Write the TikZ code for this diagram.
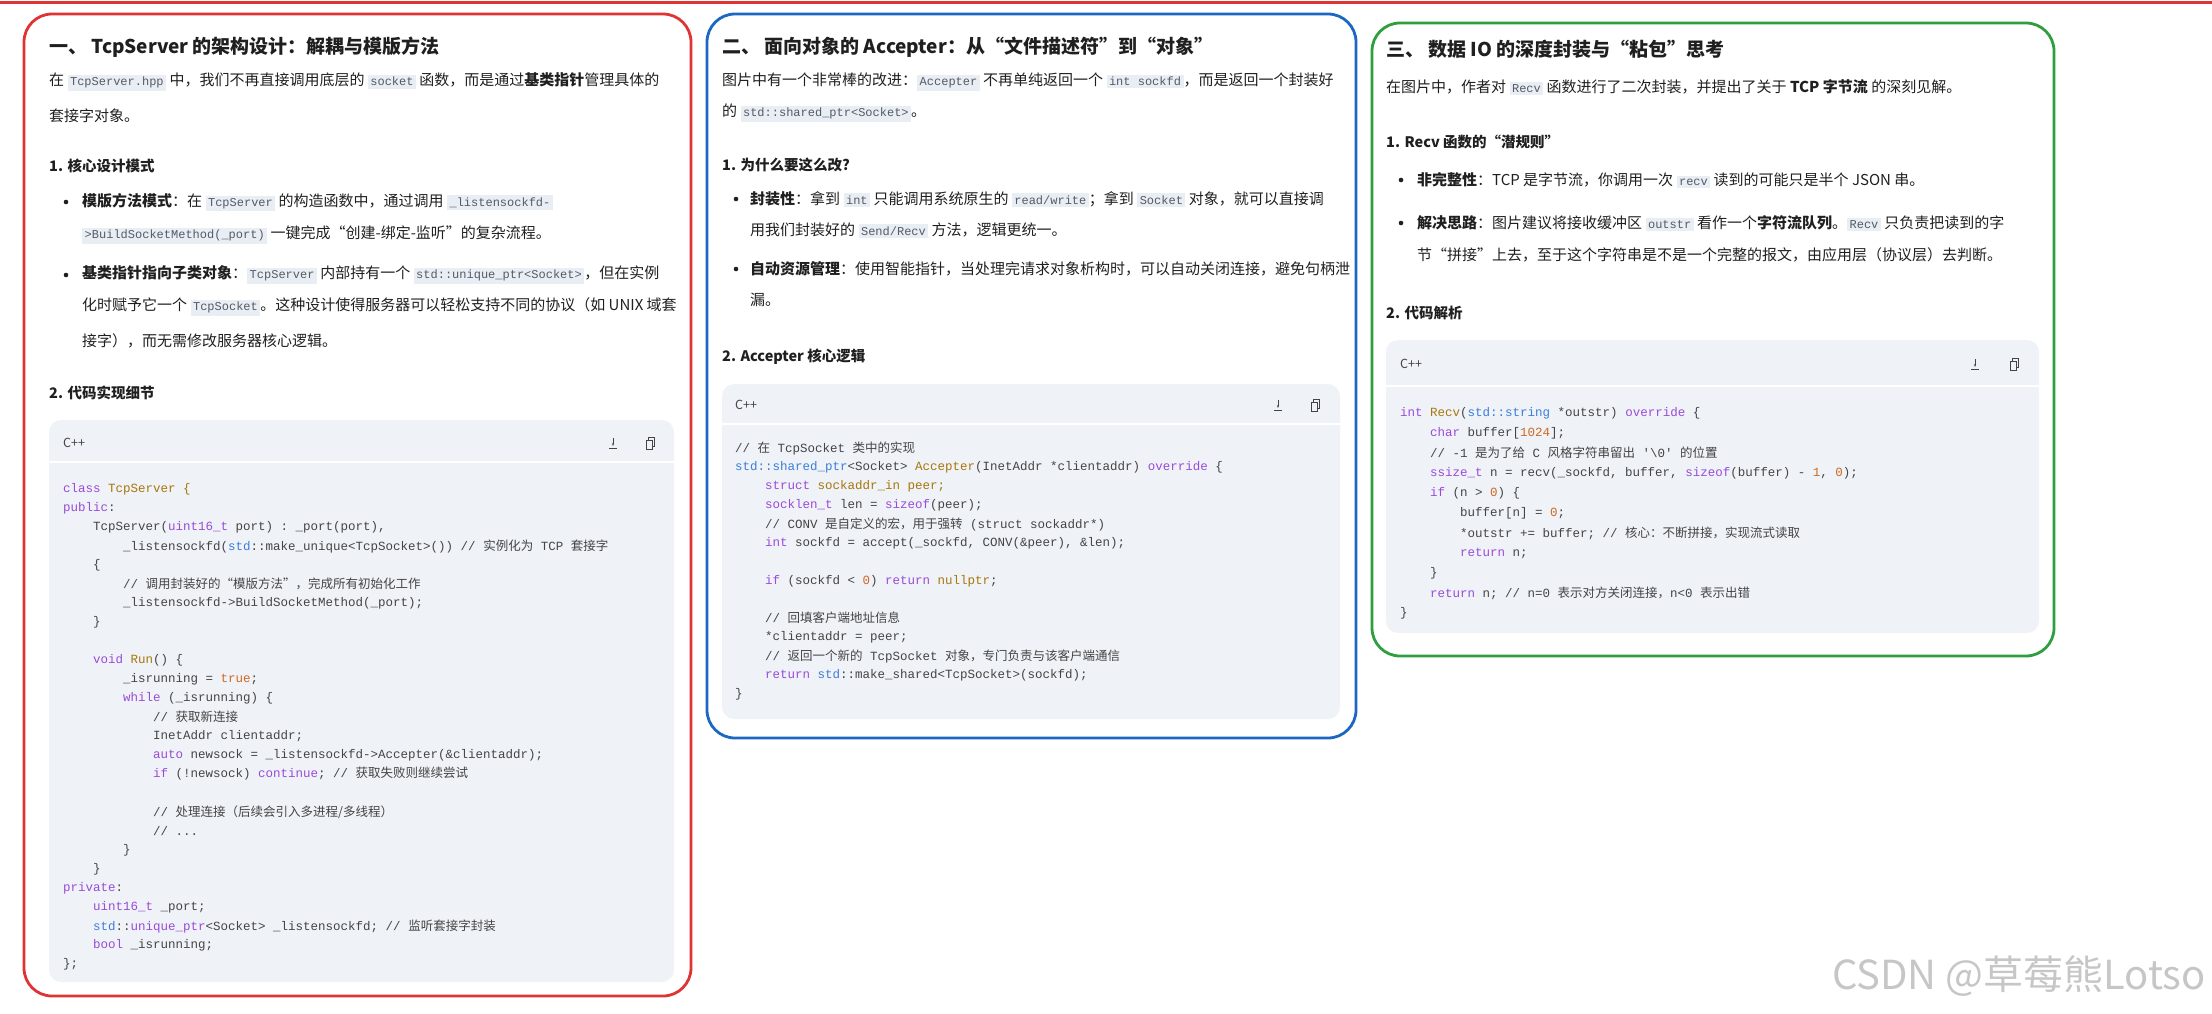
\documentclass[tikz,border=0pt]{standalone}
\usepackage{fontspec}
\usetikzlibrary{arrows.meta}
\setmainfont{Noto Sans CJK SC}
\setmonofont{Liberation Mono}
\newfontfamily\cjkfont{Noto Sans CJK SC}
\definecolor{redc}{HTML}{E03434}
\definecolor{bluec}{HTML}{1B67C4}
\definecolor{greenc}{HTML}{2E9E3E}
\definecolor{bodyc}{HTML}{1F1F1F}
\definecolor{codec}{HTML}{444444}
\definecolor{codebg}{HTML}{EFF2F7}
\definecolor{icbg}{HTML}{E9EDF4}
\definecolor{icfg}{HTML}{555B66}
\definecolor{ckw}{HTML}{9A4BD8}
\definecolor{cty}{HTML}{A8760C}
\definecolor{cstd}{HTML}{3C7ED8}
\definecolor{cnum}{HTML}{D0681E}
\setlength{\fboxsep}{2.5pt}
\newcommand\hz[1]{{\cjkfont #1}}
\newcommand\kw[1]{\textcolor{ckw}{#1}}
\newcommand\tyn[1]{\textcolor{cty}{#1}}
\newcommand\sd[1]{\textcolor{cstd}{#1}}
\newcommand\nm[1]{\textcolor{cnum}{#1}}
\newcommand\ic[1]{\colorbox{icbg}{\ttfamily\fontsize{12}{13}\selectfont\textcolor{icfg}{#1}}}
% download and copy icons of a code header
\newcommand\hdricons[4]{%
\begin{scope}[shift={(#1,#2)},draw=codec,line width=1pt]
\draw[-{Stealth[length=3pt]}] (0,-5) -- (0,3);
\draw (-4,5) -- (4,5);
\end{scope}
\begin{scope}[shift={(#3,#4)},draw=codec,line width=1pt]
\draw (-3,-3) rectangle (3,6);
\draw (-1,-3) -- (-1,-6) -- (5,-6) -- (5,3) -- (3,3);
\end{scope}}
\begin{document}
\begin{tikzpicture}[x=1pt,y=-1pt,
  tx/.style={anchor=west,inner sep=0pt,text=bodyc,font=\fontsize{15}{18}\selectfont},
  ttl/.style={anchor=west,inner sep=0pt,text=bodyc,font=\fontsize{19}{22}\selectfont\bfseries},
  sub/.style={anchor=west,inner sep=0pt,text=bodyc,font=\fontsize{14.5}{17}\selectfont\bfseries},
  cl/.style={anchor=west,inner sep=0pt,text=codec,font=\ttfamily\fontsize{12.5}{14}\selectfont},
  lang/.style={anchor=west,inner sep=0pt,text=codec,font=\fontsize{12.5}{14}\selectfont},
  card/.style={line width=2.8pt,rounded corners=28pt},
  codebox/.style={fill=codebg,rounded corners=12pt}]
\useasboundingbox (0,0) rectangle (2212,1013);
\draw[redc,line width=3pt] (0,2) -- (2212,2);
\draw[card,redc] (24,14) rectangle (691,996);
\draw[card,bluec] (707,14) rectangle (1356,738);
\draw[card,greenc] (1372,23) rectangle (2054,656);
\fill[codebox] (49,420) rectangle (674,982);
\draw[white,line width=2.5pt] (49,462) -- (674,462);
\fill[codebox] (722,384) rectangle (1340,719);
\draw[white,line width=2.5pt] (722,424) -- (1340,424);
\fill[codebox] (1386,340) rectangle (2039,633);
\draw[white,line width=2.5pt] (1386,386) -- (2039,386);
\hdricons{613}{443}{649}{443}
\hdricons{1278}{405}{1314}{405}
\hdricons{1975}{364}{2013}{364}

% card one
\node[ttl] (rt) at (49,47) {一、 TcpServer 的架构设计：解耦与模版方法};
\node[tx] (rp1) at (49,82) {在 \ic{TcpServer.hpp} 中，我们不再直接调用底层的 \ic{socket} 函数，而是通过\textbf{基类指针}管理具体的};
\node[tx] (rp2) at (49,116) {套接字对象。};
\node[sub] (rh1) at (49,166) {1. 核心设计模式};
\fill[bodyc] (66,202) circle (2.3);
\node[tx] (rb1) at (82,202) {\textbf{模版方法模式}：在 \ic{TcpServer} 的构造函数中，通过调用 \ic{\_listensockfd-}};
\node[tx] (rb1b) at (82,235) {\ic{>BuildSocketMethod(\_port)} 一键完成“创建-绑定-监听”的复杂流程。};
\fill[bodyc] (66,275) circle (2.3);
\node[tx] (rb2) at (82,275) {\textbf{基类指针指向子类对象}：\ic{TcpServer} 内部持有一个 \ic{std::unique\_ptr<Socket>}，但在实例};
\node[tx] (rb2b) at (82,307) {化时赋予它一个 \ic{TcpSocket}。这种设计使得服务器可以轻松支持不同的协议（如 UNIX 域套};
\node[tx] (rb2c) at (82,341) {接字），而无需修改服务器核心逻辑。};
\node[sub] (rh2) at (49,393) {2. 代码实现细节};
\node[lang] (rlang) at (63,443) {C++};
\node[cl] (r0) at (63,489) {\kw{class} \tyn{TcpServer \{}};
\node[cl] (r1) at (63,508) {\kw{public}:};
\node[cl] (r2) at (93,527) {TcpServer(\kw{uint16\_t} port) : \_port(port),};
\node[cl] (r3) at (123,546) {\_listensockfd(\sd{std}::make\_unique<TcpSocket>()) // \hz{实例化为} TCP \hz{套接字}};
\node[cl] (r4) at (93,565) {\{};
\node[cl] (r5) at (123,584) {// \hz{调用封装好的“模版方法”，完成所有初始化工作}};
\node[cl] (r6) at (123,603) {\_listensockfd->BuildSocketMethod(\_port);};
\node[cl] (r7) at (93,622) {\}};
\node[cl] (r9) at (93,660) {\kw{void} \tyn{Run}() \{};
\node[cl] (r10) at (123,679) {\_isrunning = \nm{true};};
\node[cl] (r11) at (123,698) {\kw{while} (\_isrunning) \{};
\node[cl] (r12) at (153,717) {// \hz{获取新连接}};
\node[cl] (r13) at (153,736) {InetAddr clientaddr;};
\node[cl] (r14) at (153,755) {\kw{auto} newsock = \_listensockfd->Accepter(\&clientaddr);};
\node[cl] (r15) at (153,774) {\kw{if} (!newsock) \kw{continue}; // \hz{获取失败则继续尝试}};
\node[cl] (r17) at (153,812) {// \hz{处理连接（后续会引入多进程/多线程）}};
\node[cl] (r18) at (153,831) {// ...};
\node[cl] (r19) at (123,850) {\}};
\node[cl] (r20) at (93,869) {\}};
\node[cl] (r21) at (63,888) {\kw{private}:};
\node[cl] (r22) at (93,907) {\kw{uint16\_t} \_port;};
\node[cl] (r23) at (93,926) {\sd{std}::\kw{unique\_ptr}<Socket> \_listensockfd; // \hz{监听套接字封装}};
\node[cl] (r24) at (93,945) {\kw{bool} \_isrunning;};
\node[cl] (r25) at (63,964) {\};};

% card two
\node[ttl] (bt) at (722,47) {二、 面向对象的 Accepter：从“文件描述符”到“对象”};
\node[tx] (bp1) at (722,82) {图片中有一个非常棒的改进：\ic{Accepter} 不再单纯返回一个 \ic{int sockfd}，而是返回一个封装好};
\node[tx] (bp2) at (722,113) {的 \ic{std::shared\_ptr<Socket>}。};
\node[sub] (bh1) at (722,165) {1. 为什么要这么改?};
\fill[bodyc] (736,199) circle (2.3);
\node[tx] (bb1) at (750,199) {\textbf{封装性}：拿到 \ic{int} 只能调用系统原生的 \ic{read/write}；拿到 \ic{Socket} 对象，就可以直接调};
\node[tx] (bb1b) at (750,230) {用我们封装好的 \ic{Send/Recv} 方法，逻辑更统一。};
\fill[bodyc] (736,269) circle (2.3);
\node[tx] (bb2) at (750,269) {\textbf{自动资源管理}：使用智能指针，当处理完请求对象析构时，可以自动关闭连接，避免句柄泄};
\node[tx] (bb2b) at (750,300) {漏。};
\node[sub] (bh2) at (722,357) {2. Accepter 核心逻辑};
\node[lang] (blang) at (735,405) {C++};
\node[cl] (b0) at (735,448) {// \hz{在} TcpSocket \hz{类中的实现}};
\node[cl] (b1) at (735,467) {\sd{std::shared\_ptr}<Socket> \tyn{Accepter}(InetAddr *clientaddr) \kw{override} \{};
\node[cl] (b2) at (765,486) {\kw{struct} \tyn{sockaddr\_in peer;}};
\node[cl] (b3) at (765,505) {\kw{socklen\_t} len = \kw{sizeof}(peer);};
\node[cl] (b4) at (765,524) {// CONV \hz{是自定义的宏，用于强转} (struct sockaddr*)};
\node[cl] (b5) at (765,543) {\kw{int} sockfd = accept(\_sockfd, CONV(\&peer), \&len);};
\node[cl] (b7) at (765,581) {\kw{if} (sockfd < \nm{0}) \kw{return} \tyn{nullptr};};
\node[cl] (b9) at (765,618) {// \hz{回填客户端地址信息}};
\node[cl] (b10) at (765,637) {*clientaddr = peer;};
\node[cl] (b11) at (765,656) {// \hz{返回一个新的} TcpSocket \hz{对象，专门负责与该客户端通信}};
\node[cl] (b12) at (765,675) {\kw{return} \sd{std}::make\_shared<TcpSocket>(sockfd);};
\node[cl] (b13) at (735,694) {\}};

% card three
\node[ttl] (gt) at (1386,49) {三、 数据 IO 的深度封装与“粘包”思考};
\node[tx] (gp1) at (1386,87) {在图片中，作者对 \ic{Recv} 函数进行了二次封装，并提出了关于 \textbf{TCP 字节流} 的深刻见解。};
\node[sub] (gh1) at (1386,142) {1. Recv 函数的“潜规则”};
\fill[bodyc] (1401,180) circle (2.3);
\node[tx] (gb1) at (1417,180) {\textbf{非完整性}：TCP 是字节流，你调用一次 \ic{recv} 读到的可能只是半个 JSON 串。};
\fill[bodyc] (1401,223) circle (2.3);
\node[tx] (gb2) at (1417,223) {\textbf{解决思路}：图片建议将接收缓冲区 \ic{outstr} 看作一个\textbf{字符流队列}。\ic{Recv} 只负责把读到的字};
\node[tx] (gb2b) at (1417,255) {节“拼接”上去，至于这个字符串是不是一个完整的报文，由应用层（协议层）去判断。};
\node[sub] (gh2) at (1386,313) {2. 代码解析};
\node[lang] (glang) at (1400,364) {C++};
\node[cl] (g0) at (1400,413) {\kw{int} \tyn{Recv}(\sd{std::string} *outstr) \kw{override} \{};
\node[cl] (g1) at (1430,433) {\kw{char} buffer[\nm{1024}];};
\node[cl] (g2) at (1430,453) {// -1 \hz{是为了给} C \hz{风格字符串留出} '\textbackslash 0' \hz{的位置}};
\node[cl] (g3) at (1430,473) {\kw{ssize\_t} n = recv(\_sockfd, buffer, \kw{sizeof}(buffer) - \nm{1}, \nm{0});};
\node[cl] (g4) at (1430,493) {\kw{if} (n > \nm{0}) \{};
\node[cl] (g5) at (1460,513) {buffer[n] = \nm{0};};
\node[cl] (g6) at (1460,533) {*outstr += buffer; // \hz{核心：不断拼接，实现流式读取}};
\node[cl] (g7) at (1460,553) {\kw{return} n;};
\node[cl] (g8) at (1430,573) {\}};
\node[cl] (g9) at (1430,593) {\kw{return} n; // n=0 \hz{表示对方关闭连接，}n<0 \hz{表示出错}};
\node[cl] (g10) at (1400,613) {\}};

\node[anchor=east,inner sep=0pt,text=gray!45,font=\fontsize{40}{44}\selectfont] (wm) at (2206,976) {CSDN @草莓熊Lotso};
\end{tikzpicture}
\end{document}
